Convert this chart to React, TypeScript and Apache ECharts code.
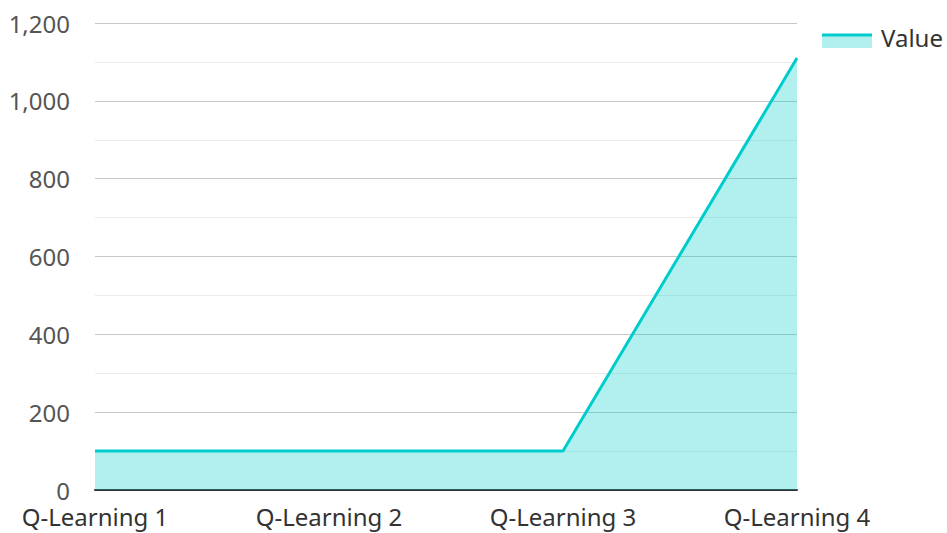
import React, { useEffect, useRef } from "react";
import * as echarts from "echarts";

const categories = ["Q-Learning 1", "Q-Learning 2", "Q-Learning 3", "Q-Learning 4"];
const values = [100, 100, 100, 1110];
const seriesName = "Value";

export default function App() {
  const ref = useRef<HTMLDivElement>(null);
  useEffect(() => {
    if (!ref.current) return;
    const chart = echarts.init(ref.current, undefined, { renderer: "svg" });
    const font = "'Noto Sans', sans-serif";
    chart.setOption({
      animation: false,
      textStyle: { fontFamily: font },
      grid: { left: 95, right: 150, top: 23, bottom: 43, containLabel: false },
      xAxis: {
        type: "category",
        data: categories,
        boundaryGap: false,
        axisLine: { show: true, lineStyle: { color: "#333", width: 2 } },
        axisTick: { show: false },
        axisLabel: { color: "#333", fontSize: 24, margin: 14, fontFamily: font },
        splitLine: { show: false },
      },
      yAxis: {
        type: "value",
        min: 0,
        max: 1200,
        interval: 200,
        axisLine: { show: false },
        axisTick: { show: false },
        axisLabel: { color: "#555", fontSize: 24, margin: 25, fontFamily: font },
        splitLine: { show: true, lineStyle: { color: "#c8c8c8", width: 1 } },
        minorTick: { show: false, splitNumber: 2 },
        minorSplitLine: { show: true, lineStyle: { color: "#ebebeb", width: 1 } },
      },
      series: [
        {
          name: seriesName,
          type: "line",
          data: values,
          symbol: "none",
          lineStyle: { color: "#00cccc", width: 3 },
          itemStyle: { color: "#00cccc" },
          areaStyle: { color: "#00cccc", opacity: 0.3 },
        },
      ],
      graphic: [
        {
          type: "rect",
          shape: { x: 822, y: 35, width: 50, height: 13 },
          style: { fill: "#b2efef" },
        },
        {
          type: "rect",
          shape: { x: 822, y: 33.5, width: 50, height: 3 },
          style: { fill: "#00cccc" },
        },
        {
          type: "text",
          x: 881,
          y: 37,
          style: {
            text: seriesName,
            fill: "#333",
            fontSize: 24,
            fontFamily: font,
            verticalAlign: "middle",
            align: "left",
          },
        },
      ],
    });
    return () => chart.dispose();
  }, []);
  return <div ref={ref} style={{ width: 947, height: 533, position: "absolute", left: 0, top: 0 }} />;
}
